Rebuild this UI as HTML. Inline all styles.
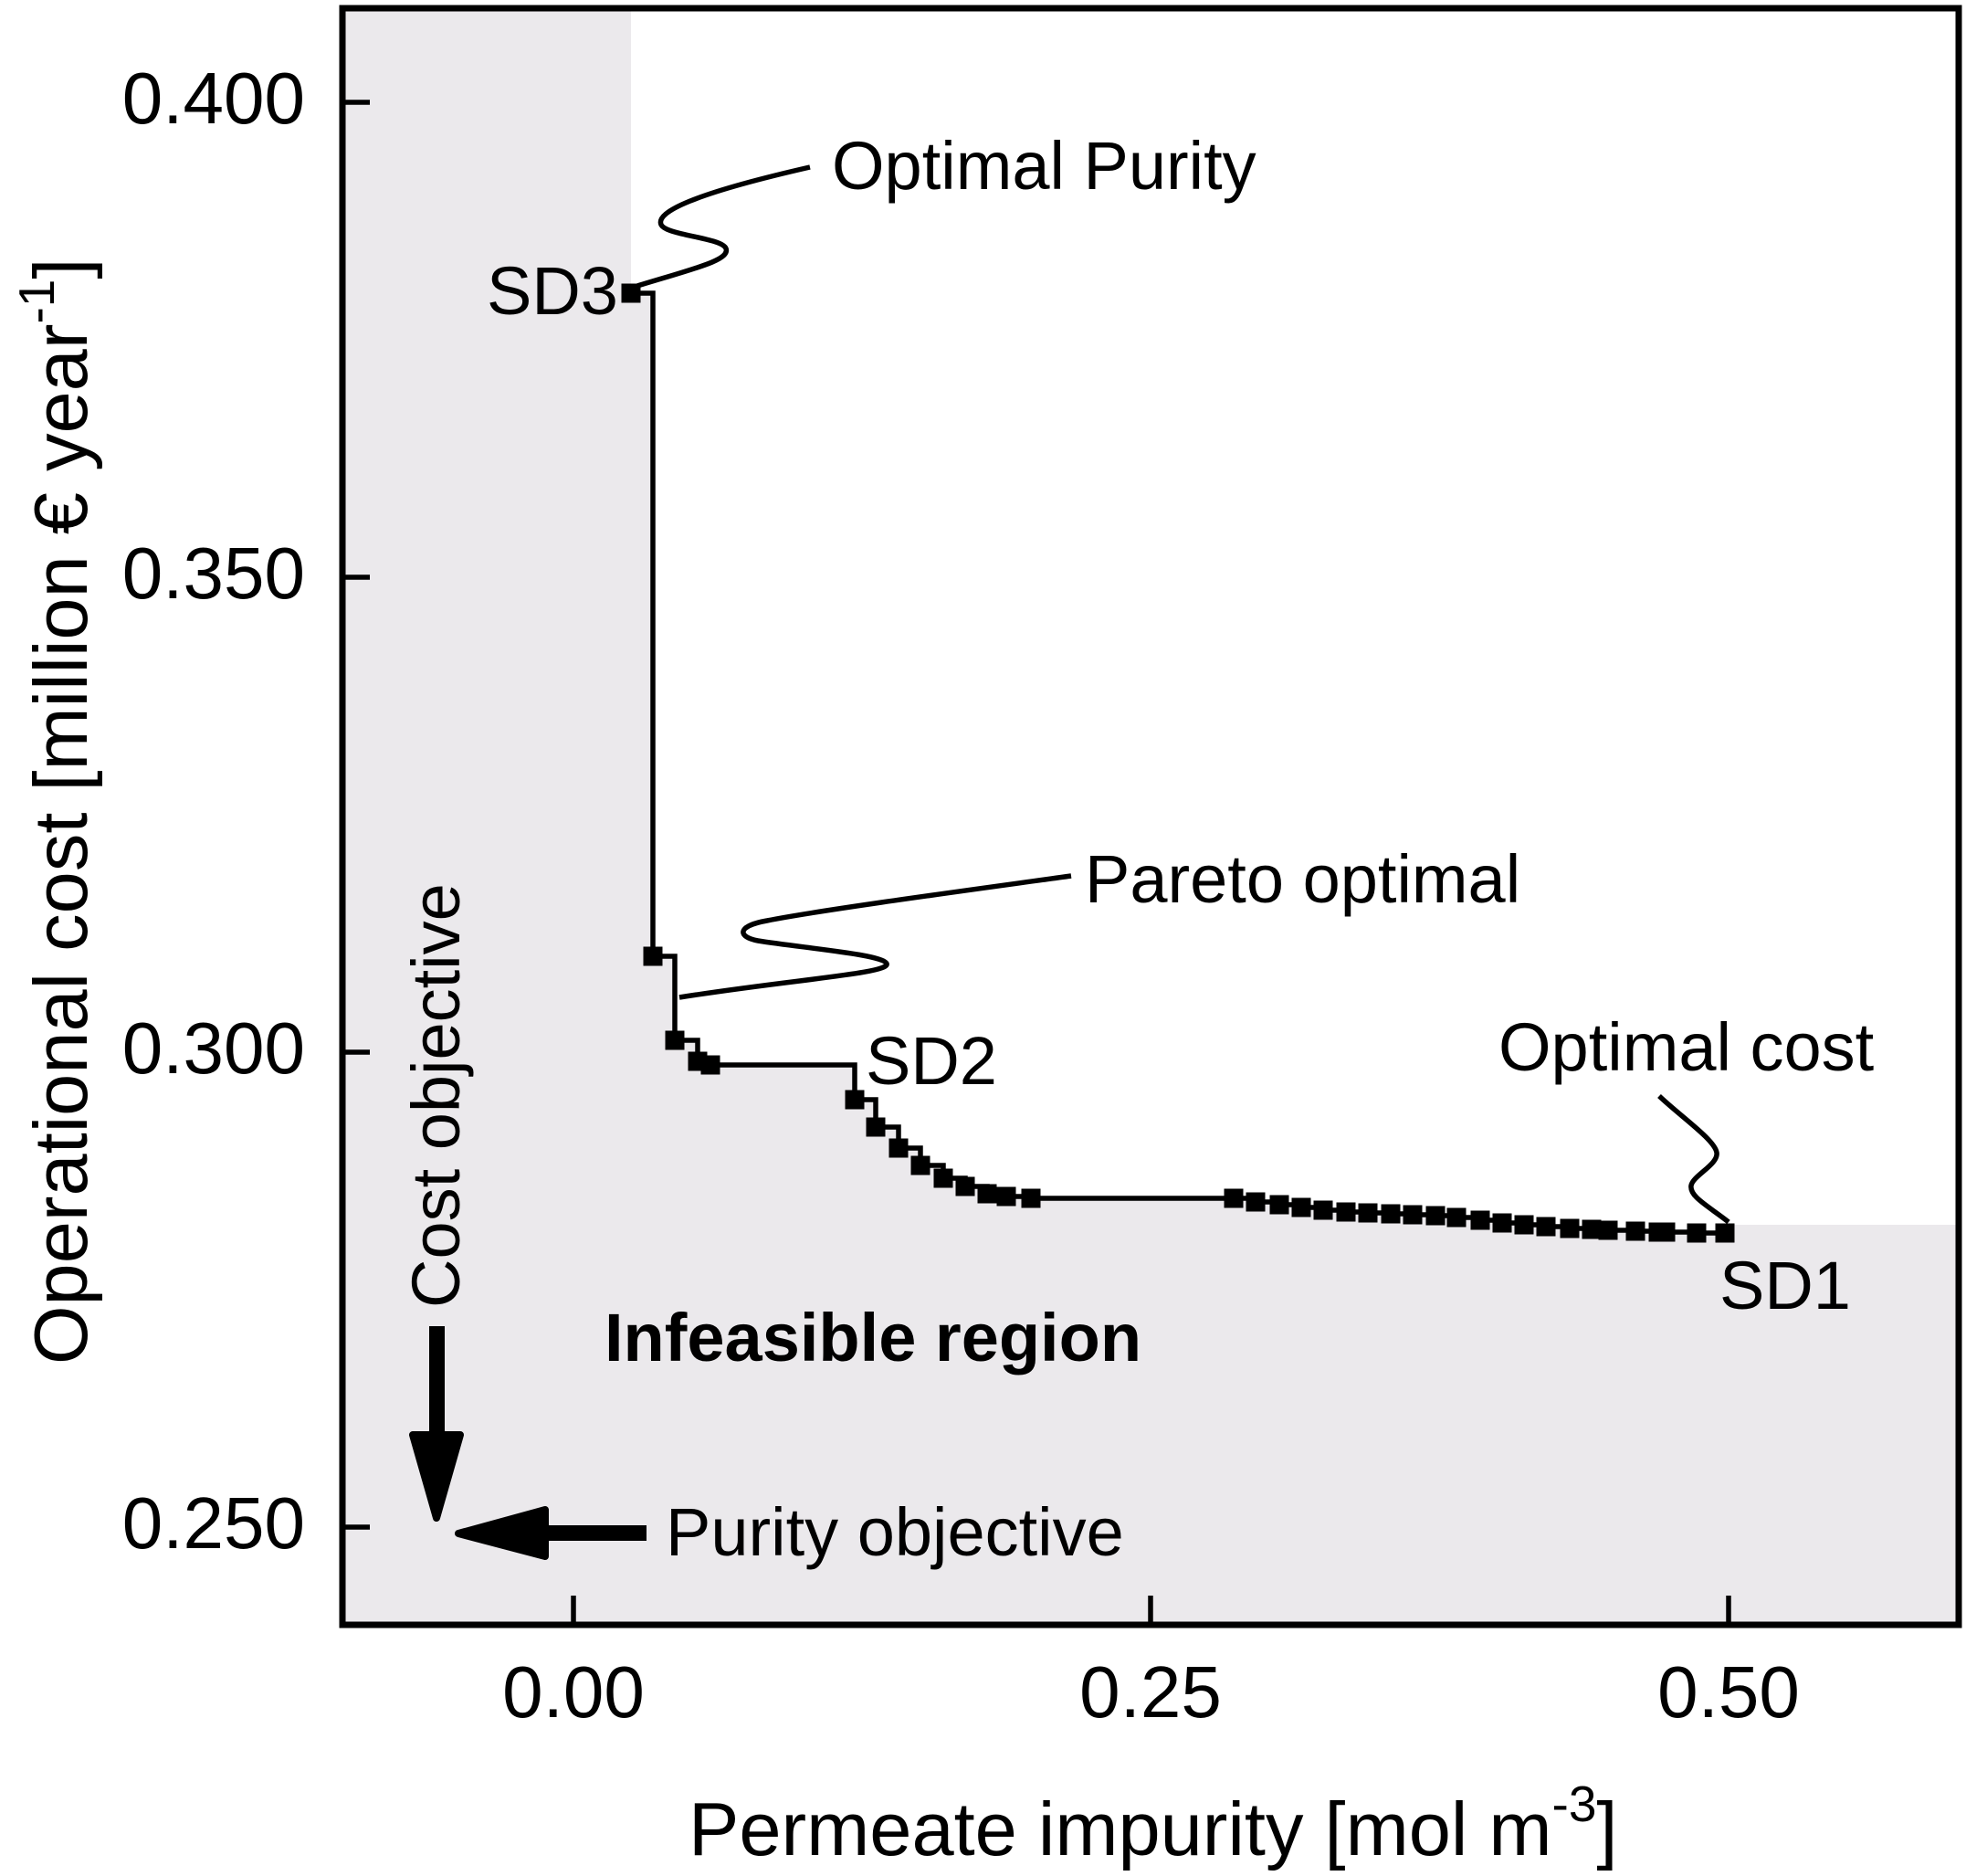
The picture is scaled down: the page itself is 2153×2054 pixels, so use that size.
<!DOCTYPE html>
<html>
<head>
<meta charset="utf-8">
<style>
  html, body { margin: 0; padding: 0; background: #ffffff; }
  svg { display: block; }
  text { font-family: "Liberation Sans", Arial, sans-serif; fill: #000; }
</style>
</head>
<body>
<svg width="2153" height="2054" viewBox="0 0 2153 2054" xmlns="http://www.w3.org/2000/svg">
  <rect x="0" y="0" width="2153" height="2054" fill="#ffffff"/>

  <!-- infeasible shaded region -->
  <path fill="#ebe9ec" d="M375,9 H691 V321 H715 V1047 H739 V1139 H764 V1162 H778 V1166 H936 V1204 H959 V1234 H984 V1257 H1008 V1276 H1033 V1290 H1057 V1299 H1081 V1307 H1102 V1310 H1129 V1312 H1351 V1312 H1375 V1316 H1401 V1319 H1425 V1322 H1449 V1325 H1474 V1327 H1498 V1328 H1523 V1329 H1547 V1330 H1572 V1331 H1595 V1333 H1621 V1336 H1645 V1339 H1669 V1341 H1693 V1343 H1719 V1345 H1743 V1346 H1761 V1347 H1791 V1348 H1816 V1349 H1824 V1349 H1858 V1350 H1889 V1341 H2145 V1779 H375 Z"/>

  <!-- frame -->
  <rect x="375" y="9" width="1770" height="1770" fill="none" stroke="#000" stroke-width="7"/>

  <!-- ticks -->
  <g stroke="#000" stroke-width="5.5">
    <line x1="375" y1="112" x2="405" y2="112"/>
    <line x1="375" y1="632" x2="405" y2="632"/>
    <line x1="375" y1="1152" x2="405" y2="1152"/>
    <line x1="375" y1="1672" x2="405" y2="1672"/>
    <line x1="628" y1="1779" x2="628" y2="1747"/>
    <line x1="1260" y1="1779" x2="1260" y2="1747"/>
    <line x1="1893" y1="1779" x2="1893" y2="1747"/>
  </g>

  <!-- tick labels -->
  <g font-size="80" text-anchor="end">
    <text x="334" y="135">0.400</text>
    <text x="334" y="655">0.350</text>
    <text x="334" y="1175">0.300</text>
    <text x="334" y="1695">0.250</text>
  </g>
  <g font-size="80" text-anchor="middle">
    <text x="628" y="1880">0.00</text>
    <text x="1260" y="1880">0.25</text>
    <text x="1893" y="1880">0.50</text>
  </g>

  <!-- axis labels -->
  <text x="754" y="2031" font-size="83">Permeate impurity [mol m<tspan font-size="55" dy="-37">-3</tspan><tspan dy="37">]</tspan></text>
  <text x="95" y="1494" font-size="83" transform="rotate(-90 95 1494)">Operational cost [million € year<tspan font-size="55" dy="-36">-1</tspan><tspan dy="36">]</tspan></text>

  <!-- pareto step curve -->
  <path fill="none" stroke="#000" stroke-width="5.5" stroke-linejoin="miter" d="M691,321 H715 V1047 H739 V1139 H764 V1162 H778 V1166 H936 V1204 H959 V1234 H984 V1257 H1008 V1276 H1033 V1290 H1057 V1299 H1081 V1307 H1102 V1310 H1129 V1312 H1351 V1312 H1375 V1316 H1401 V1319 H1425 V1322 H1449 V1325 H1474 V1327 H1498 V1328 H1523 V1329 H1547 V1330 H1572 V1331 H1595 V1333 H1621 V1336 H1645 V1339 H1669 V1341 H1693 V1343 H1719 V1345 H1743 V1346 H1761 V1347 H1791 V1348 H1816 V1349 H1824 V1349 H1858 V1350 H1889 V1350"/>

  <!-- markers -->
  <g fill="#000">
    <rect x="680.5" y="310.5" width="21" height="21"/>
    <rect x="704.5" y="1036.5" width="21" height="21"/>
    <rect x="728.5" y="1128.5" width="21" height="21"/>
    <rect x="753.5" y="1151.5" width="21" height="21"/>
    <rect x="767.5" y="1155.5" width="21" height="21"/>
    <rect x="925.5" y="1193.5" width="21" height="21"/>
    <rect x="948.5" y="1223.5" width="21" height="21"/>
    <rect x="973.5" y="1246.5" width="21" height="21"/>
    <rect x="997.5" y="1265.5" width="21" height="21"/>
    <rect x="1022.5" y="1279.5" width="21" height="21"/>
    <rect x="1046.5" y="1288.5" width="21" height="21"/>
    <rect x="1070.5" y="1296.5" width="21" height="21"/>
    <rect x="1091.5" y="1299.5" width="21" height="21"/>
    <rect x="1118.5" y="1301.5" width="21" height="21"/>
    <rect x="1340.5" y="1301.5" width="21" height="21"/>
    <rect x="1364.5" y="1305.5" width="21" height="21"/>
    <rect x="1390.5" y="1308.5" width="21" height="21"/>
    <rect x="1414.5" y="1311.5" width="21" height="21"/>
    <rect x="1438.5" y="1314.5" width="21" height="21"/>
    <rect x="1463.5" y="1316.5" width="21" height="21"/>
    <rect x="1487.5" y="1317.5" width="21" height="21"/>
    <rect x="1512.5" y="1318.5" width="21" height="21"/>
    <rect x="1536.5" y="1319.5" width="21" height="21"/>
    <rect x="1561.5" y="1320.5" width="21" height="21"/>
    <rect x="1584.5" y="1322.5" width="21" height="21"/>
    <rect x="1610.5" y="1325.5" width="21" height="21"/>
    <rect x="1634.5" y="1328.5" width="21" height="21"/>
    <rect x="1658.5" y="1330.5" width="21" height="21"/>
    <rect x="1682.5" y="1332.5" width="21" height="21"/>
    <rect x="1708.5" y="1334.5" width="21" height="21"/>
    <rect x="1732.5" y="1335.5" width="21" height="21"/>
    <rect x="1750.5" y="1336.5" width="21" height="21"/>
    <rect x="1780.5" y="1337.5" width="21" height="21"/>
    <rect x="1805.5" y="1338.5" width="21" height="21"/>
    <rect x="1813.5" y="1338.5" width="21" height="21"/>
    <rect x="1847.5" y="1339.5" width="21" height="21"/>
    <rect x="1878.5" y="1339.5" width="21" height="21"/>
  </g>

  <!-- callout lines -->
  <g fill="none" stroke="#000" stroke-width="5.5" stroke-linecap="butt">
    <path d="M698,313 C760,294 800,285 795,272 C790,260 730,258 724,246 C718,232 760,212 887,183"/>
    <path d="M744,1092 C870,1072 975,1066 971,1055 C967,1045 880,1038 830,1030 C808,1026 806,1014 840,1008 C900,996 1080,972 1173,959"/>
    <path d="M1893,1338 C1870,1320 1850,1310 1852,1298 C1854,1287 1882,1275 1880,1262 C1878,1248 1840,1222 1817,1200"/>
  </g>

  <!-- annotation texts -->
  <g font-size="74">
    <text x="911" y="207">Optimal Purity</text>
    <text x="533" y="344">SD3</text>
    <text x="1188" y="988">Pareto optimal</text>
    <text x="948" y="1187">SD2</text>
    <text x="1641" y="1172">Optimal cost</text>
    <text x="1883" y="1433">SD1</text>
    <text x="729" y="1703">Purity objective</text>
    <text x="503" y="1432" transform="rotate(-90 503 1432)">Cost objective</text>
  </g>
  <text x="662" y="1490" font-size="74" font-weight="bold">Infeasible region</text>

  <!-- arrows -->
  <g fill="#000" stroke="#000" stroke-width="8" stroke-linejoin="round">
    <rect x="470" y="1452" width="17" height="120" stroke="none"/>
    <polygon points="452,1571 504,1571 478,1662"/>
    <rect x="592" y="1670" width="116" height="17" stroke="none"/>
    <polygon points="597,1653 597,1704 502,1679"/>
  </g>
</svg>
</body>
</html>
